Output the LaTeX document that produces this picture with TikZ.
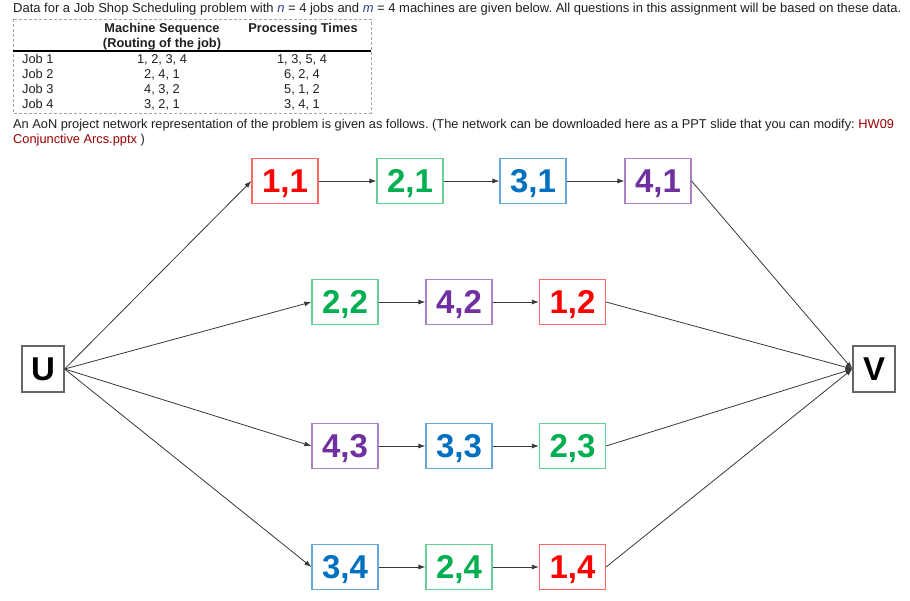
\documentclass[tikz,border=0pt]{standalone}
\usepackage{fontspec}
\setmainfont{Liberation Sans}
\frenchspacing
\usetikzlibrary{arrows.meta}
\definecolor{m1}{HTML}{FF0000}
\definecolor{m2}{HTML}{00B050}
\definecolor{m3}{HTML}{0070C0}
\definecolor{m4}{HTML}{7030A0}
\definecolor{link red}{HTML}{990000}
\definecolor{var blue}{HTML}{2E3D8F}
\colorlet{body text}{black!88}
\colorlet{arc line}{black!78}
\tikzset{op/.style={draw=#1!60, text=#1, fill=white, line width=1.2pt,
    minimum width=66pt, minimum height=45pt, inner sep=0pt,
    text height=23.6pt, text depth=0pt,
    font=\fontsize{33}{36}\selectfont\bfseries},
  terminal/.style={draw=black!60, line width=1.2pt, minimum width=42pt,
    minimum height=46pt, inner sep=0pt, text height=23.6pt, text depth=0pt,
    font=\fontsize{33}{36}\selectfont\bfseries},
  conj/.style={draw=arc line, line width=0.8pt, -{Latex[length=7pt,width=5pt]}},
  txt/.style={inner sep=0pt, text=body text, font=\fontsize{12.8}{15}\selectfont},
  head/.style={txt, anchor=base, font=\fontsize{12.8}{15}\selectfont\bfseries}}

\begin{document}
\begin{tikzpicture}[x=1pt, y=-1pt]
    \path[use as bounding box] (0,0) rectangle (910,600);
    % data table
    \node[txt, anchor=base west, font=\fontsize{12.98}{15}\selectfont] (intro) at (13,12)
      {Data for a Job Shop Scheduling problem with \textcolor{var blue}{\textit{n}} = 4 jobs and \textcolor{var blue}{\textit{m}} = 4 machines are given below. All questions in this assignment will be based on these data.};
    \draw[black!35, dash pattern=on 3pt off 2pt] (13,19) rectangle (371,113);
    \draw[line width=2.2pt] (13,51) -- (371,51);
    \node[head] (seqhead) at (162,32) {Machine Sequence};
    \node[head] (routhead) at (162,47) {(Routing of the job)};
    \node[head] (timehead) at (303,32) {Processing Times};
    \foreach \j/\seq/\ptimes in {1/{1, 2, 3, 4}/{1, 3, 5, 4}, 2/{2, 4, 1}/{6, 2, 4},
        3/{4, 3, 2}/{5, 1, 2}, 4/{3, 2, 1}/{3, 4, 1}} {
      \node[txt, anchor=base west] (job\j) at (22,48+15*\j) {Job \j};
      \node[txt, anchor=base] (seq\j) at (162,48+15*\j) {\seq};
      \node[txt, anchor=base] (time\j) at (302,48+15*\j) {\ptimes};
    }
    \node[txt, anchor=base west] (aon) at (13,128)
      {An AoN project network representation of the problem is given as follows. (The network can be downloaded here as a PPT slide that you can modify: \textcolor{link red}{HW09}};
    \node[txt, anchor=base west] (aon2) at (13,143) {\textcolor{link red}{Conjunctive Arcs.pptx} )};
    % network
    \node[terminal] (U) at (43,369) {U};
    \node[terminal] (V) at (874,369) {V};
    \node[op=m1] (o11) at (285,181) {1,1};
    \node[op=m2] (o21) at (410,181) {2,1};
    \node[op=m3] (o31) at (533,181) {3,1};
    \node[op=m4] (o41) at (658,181) {4,1};
    \node[op=m2] (o22) at (345,302) {2,2};
    \node[op=m4] (o42) at (459,302) {4,2};
    \node[op=m1] (o12) at (572.5,302) {1,2};
    \node[op=m4] (o43) at (345,446) {4,3};
    \node[op=m3] (o33) at (459,446) {3,3};
    \node[op=m2] (o23) at (572.5,446) {2,3};
    \node[op=m3] (o34) at (345,567) {3,4};
    \node[op=m2] (o24) at (459,567) {2,4};
    \node[op=m1] (o14) at (572.5,567) {1,4};
    \foreach \a/\b in {U/o11, o11/o21, o21/o31, o31/o41, o41/V,
        U/o22, o22/o42, o42/o12, o12/V, U/o43, o43/o33, o33/o23, o23/V,
        U/o34, o34/o24, o24/o14, o14/V}
      \draw[conj] (\a.east) -- (\b.west);
\end{tikzpicture}
\end{document}
